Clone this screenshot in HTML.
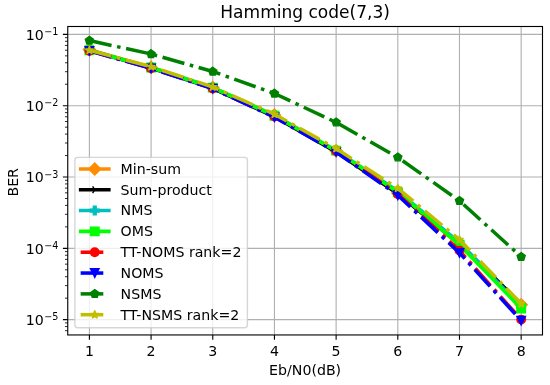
<!DOCTYPE html>
<html><head><meta charset="utf-8"><title>Hamming code(7,3)</title>
<style>html,body{margin:0;padding:0;background:#fff}svg{display:block}</style></head>
<body>
<svg width="550" height="385" viewBox="0 0 550 385" font-family='DejaVu Sans, Liberation Sans, sans-serif' font-size="14.17" fill="#000">
<rect width="550" height="385" fill="#fff"/>
<path d="M89.4 26.5V334.95M151.08 26.5V334.95M212.76 26.5V334.95M274.44 26.5V334.95M336.12 26.5V334.95M397.8 26.5V334.95M459.48 26.5V334.95M521.16 26.5V334.95M67.75 319.64H542.5M67.75 248.33H542.5M67.75 177.02H542.5M67.75 105.71H542.5M67.75 34.4H542.5" stroke="#b0b0b0" stroke-width="1.11" fill="none"/>
<path d="M89.4 334.95v4.86M151.08 334.95v4.86M212.76 334.95v4.86M274.44 334.95v4.86M336.12 334.95v4.86M397.8 334.95v4.86M459.48 334.95v4.86M521.16 334.95v4.86M67.75 319.64h-4.86M67.75 248.33h-4.86M67.75 177.02h-4.86M67.75 105.71h-4.86M67.75 34.4h-4.86" stroke="#000" stroke-width="1.11" fill="none"/>
<path d="M67.75 330.69h-2.78M67.75 326.55h-2.78M67.75 322.9h-2.78M67.75 298.17h-2.78M67.75 285.62h-2.78M67.75 276.71h-2.78M67.75 269.8h-2.78M67.75 264.15h-2.78M67.75 259.38h-2.78M67.75 255.24h-2.78M67.75 251.59h-2.78M67.75 226.86h-2.78M67.75 214.31h-2.78M67.75 205.4h-2.78M67.75 198.49h-2.78M67.75 192.84h-2.78M67.75 188.07h-2.78M67.75 183.93h-2.78M67.75 180.28h-2.78M67.75 155.55h-2.78M67.75 143h-2.78M67.75 134.09h-2.78M67.75 127.18h-2.78M67.75 121.53h-2.78M67.75 116.76h-2.78M67.75 112.62h-2.78M67.75 108.97h-2.78M67.75 84.24h-2.78M67.75 71.69h-2.78M67.75 62.78h-2.78M67.75 55.87h-2.78M67.75 50.22h-2.78M67.75 45.45h-2.78M67.75 41.31h-2.78M67.75 37.66h-2.78" stroke="#000" stroke-width="0.83" fill="none"/>
<g fill="none" stroke-linejoin="round">
<polyline points="89.4,49.6 151.08,67.2 212.76,87.5 274.44,115.1 336.12,150.7 397.8,193 459.48,244.8 521.16,304.8" stroke="#ff8c00" stroke-width="3.54" stroke-linecap="square"/>
<polygon points="89.4,43.59 95.41,49.6 89.4,55.61 83.39,49.6" fill="#ff8c00" stroke="#ff8c00" stroke-width="1.42" stroke-linejoin="miter"/>
<polygon points="151.08,61.19 157.09,67.2 151.08,73.21 145.07,67.2" fill="#ff8c00" stroke="#ff8c00" stroke-width="1.42" stroke-linejoin="miter"/>
<polygon points="212.76,81.49 218.77,87.5 212.76,93.51 206.75,87.5" fill="#ff8c00" stroke="#ff8c00" stroke-width="1.42" stroke-linejoin="miter"/>
<polygon points="274.44,109.09 280.45,115.1 274.44,121.11 268.43,115.1" fill="#ff8c00" stroke="#ff8c00" stroke-width="1.42" stroke-linejoin="miter"/>
<polygon points="336.12,144.69 342.13,150.7 336.12,156.71 330.11,150.7" fill="#ff8c00" stroke="#ff8c00" stroke-width="1.42" stroke-linejoin="miter"/>
<polygon points="397.8,186.99 403.81,193 397.8,199.01 391.79,193" fill="#ff8c00" stroke="#ff8c00" stroke-width="1.42" stroke-linejoin="miter"/>
<polygon points="459.48,238.79 465.49,244.8 459.48,250.81 453.47,244.8" fill="#ff8c00" stroke="#ff8c00" stroke-width="1.42" stroke-linejoin="miter"/>
<polygon points="521.16,298.79 527.17,304.8 521.16,310.81 515.15,304.8" fill="#ff8c00" stroke="#ff8c00" stroke-width="1.42" stroke-linejoin="miter"/>
<polyline points="89.4,50.4 151.08,68 212.76,88.3 274.44,116.8 336.12,152 397.8,193.8 459.48,243.6 521.16,304" stroke="#000000" stroke-width="3.54" stroke-linecap="square"/>
<path d="M87.28 47L89.4 50.4L87.28 53.8M89.4 50.4H93.65" stroke="#000000" stroke-width="1.42" fill="none" stroke-linejoin="miter"/>
<path d="M148.96 64.6L151.08 68L148.96 71.4M151.08 68H155.33" stroke="#000000" stroke-width="1.42" fill="none" stroke-linejoin="miter"/>
<path d="M210.63 84.9L212.76 88.3L210.63 91.7M212.76 88.3H217.01" stroke="#000000" stroke-width="1.42" fill="none" stroke-linejoin="miter"/>
<path d="M272.31 113.4L274.44 116.8L272.31 120.2M274.44 116.8H278.69" stroke="#000000" stroke-width="1.42" fill="none" stroke-linejoin="miter"/>
<path d="M334 148.6L336.12 152L334 155.4M336.12 152H340.37" stroke="#000000" stroke-width="1.42" fill="none" stroke-linejoin="miter"/>
<path d="M395.67 190.4L397.8 193.8L395.67 197.2M397.8 193.8H402.05" stroke="#000000" stroke-width="1.42" fill="none" stroke-linejoin="miter"/>
<path d="M457.36 240.2L459.48 243.6L457.36 247M459.48 243.6H463.73" stroke="#000000" stroke-width="1.42" fill="none" stroke-linejoin="miter"/>
<path d="M519.03 300.6L521.16 304L519.03 307.4M521.16 304H525.41" stroke="#000000" stroke-width="1.42" fill="none" stroke-linejoin="miter"/>
<polyline points="89.4,50.3 151.08,67.6 212.76,87.7 274.44,115.8 336.12,150.7 397.8,191 459.48,242.6 521.16,306.5" stroke="#00bfbf" stroke-width="3.54" stroke-linecap="square"/>
<polygon points="87.98,46.05 90.82,46.05 90.82,48.88 93.65,48.88 93.65,51.72 90.82,51.72 90.82,54.55 87.98,54.55 87.98,51.72 85.15,51.72 85.15,48.88 87.98,48.88" fill="#00bfbf" stroke="#00bfbf" stroke-width="1.42" stroke-linejoin="miter"/>
<polygon points="149.66,63.35 152.5,63.35 152.5,66.18 155.33,66.18 155.33,69.02 152.5,69.02 152.5,71.85 149.66,71.85 149.66,69.02 146.83,69.02 146.83,66.18 149.66,66.18" fill="#00bfbf" stroke="#00bfbf" stroke-width="1.42" stroke-linejoin="miter"/>
<polygon points="211.34,83.45 214.18,83.45 214.18,86.28 217.01,86.28 217.01,89.12 214.18,89.12 214.18,91.95 211.34,91.95 211.34,89.12 208.51,89.12 208.51,86.28 211.34,86.28" fill="#00bfbf" stroke="#00bfbf" stroke-width="1.42" stroke-linejoin="miter"/>
<polygon points="273.02,111.55 275.86,111.55 275.86,114.38 278.69,114.38 278.69,117.22 275.86,117.22 275.86,120.05 273.02,120.05 273.02,117.22 270.19,117.22 270.19,114.38 273.02,114.38" fill="#00bfbf" stroke="#00bfbf" stroke-width="1.42" stroke-linejoin="miter"/>
<polygon points="334.7,146.45 337.54,146.45 337.54,149.28 340.37,149.28 340.37,152.12 337.54,152.12 337.54,154.95 334.7,154.95 334.7,152.12 331.87,152.12 331.87,149.28 334.7,149.28" fill="#00bfbf" stroke="#00bfbf" stroke-width="1.42" stroke-linejoin="miter"/>
<polygon points="396.38,186.75 399.22,186.75 399.22,189.58 402.05,189.58 402.05,192.42 399.22,192.42 399.22,195.25 396.38,195.25 396.38,192.42 393.55,192.42 393.55,189.58 396.38,189.58" fill="#00bfbf" stroke="#00bfbf" stroke-width="1.42" stroke-linejoin="miter"/>
<polygon points="458.06,238.35 460.9,238.35 460.9,241.18 463.73,241.18 463.73,244.02 460.9,244.02 460.9,246.85 458.06,246.85 458.06,244.02 455.23,244.02 455.23,241.18 458.06,241.18" fill="#00bfbf" stroke="#00bfbf" stroke-width="1.42" stroke-linejoin="miter"/>
<polygon points="519.74,302.25 522.58,302.25 522.58,305.08 525.41,305.08 525.41,307.92 522.58,307.92 522.58,310.75 519.74,310.75 519.74,307.92 516.91,307.92 516.91,305.08 519.74,305.08" fill="#00bfbf" stroke="#00bfbf" stroke-width="1.42" stroke-linejoin="miter"/>
<polyline points="89.4,50.2 151.08,67.5 212.76,87.6 274.44,115.7 336.12,150.6 397.8,192.2 459.48,244.8 521.16,308.5" stroke="#00ff00" stroke-width="3.54" stroke-linecap="square"/>
<polygon points="85.15,45.95 93.65,45.95 93.65,54.45 85.15,54.45" fill="#00ff00" stroke="#00ff00" stroke-width="1.42" stroke-linejoin="miter"/>
<polygon points="146.83,63.25 155.33,63.25 155.33,71.75 146.83,71.75" fill="#00ff00" stroke="#00ff00" stroke-width="1.42" stroke-linejoin="miter"/>
<polygon points="208.51,83.35 217.01,83.35 217.01,91.85 208.51,91.85" fill="#00ff00" stroke="#00ff00" stroke-width="1.42" stroke-linejoin="miter"/>
<polygon points="270.19,111.45 278.69,111.45 278.69,119.95 270.19,119.95" fill="#00ff00" stroke="#00ff00" stroke-width="1.42" stroke-linejoin="miter"/>
<polygon points="331.87,146.35 340.37,146.35 340.37,154.85 331.87,154.85" fill="#00ff00" stroke="#00ff00" stroke-width="1.42" stroke-linejoin="miter"/>
<polygon points="393.55,187.95 402.05,187.95 402.05,196.45 393.55,196.45" fill="#00ff00" stroke="#00ff00" stroke-width="1.42" stroke-linejoin="miter"/>
<polygon points="455.23,240.55 463.73,240.55 463.73,249.05 455.23,249.05" fill="#00ff00" stroke="#00ff00" stroke-width="1.42" stroke-linejoin="miter"/>
<polygon points="516.91,304.25 525.41,304.25 525.41,312.75 516.91,312.75" fill="#00ff00" stroke="#00ff00" stroke-width="1.42" stroke-linejoin="miter"/>
<polyline points="89.4,50.8 151.08,68.2 212.76,88.4 274.44,116.6 336.12,150.9 397.8,194 459.48,250.6 521.16,319.6" stroke="#ff0000" stroke-width="3.54" stroke-linecap="butt" stroke-dasharray="22.66 5.66 3.54 5.66"/>
<circle cx="89.4" cy="50.8" r="4.96" fill="#ff0000"/>
<circle cx="151.08" cy="68.2" r="4.96" fill="#ff0000"/>
<circle cx="212.76" cy="88.4" r="4.96" fill="#ff0000"/>
<circle cx="274.44" cy="116.6" r="4.96" fill="#ff0000"/>
<circle cx="336.12" cy="150.9" r="4.96" fill="#ff0000"/>
<circle cx="397.8" cy="194" r="4.96" fill="#ff0000"/>
<circle cx="459.48" cy="250.6" r="4.96" fill="#ff0000"/>
<circle cx="521.16" cy="319.6" r="4.96" fill="#ff0000"/>
<polyline points="89.4,50.9 151.08,68.4 212.76,88.6 274.44,117.2 336.12,152 397.8,195.3 459.48,252.9 521.16,320.6" stroke="#0000ff" stroke-width="3.54" stroke-linecap="butt" stroke-dasharray="22.66 5.66 3.54 5.66"/>
<polygon points="89.4,55.15 85.15,46.65 93.65,46.65" fill="#0000ff" stroke="#0000ff" stroke-width="1.42" stroke-linejoin="miter"/>
<polygon points="151.08,72.65 146.83,64.15 155.33,64.15" fill="#0000ff" stroke="#0000ff" stroke-width="1.42" stroke-linejoin="miter"/>
<polygon points="212.76,92.85 208.51,84.35 217.01,84.35" fill="#0000ff" stroke="#0000ff" stroke-width="1.42" stroke-linejoin="miter"/>
<polygon points="274.44,121.45 270.19,112.95 278.69,112.95" fill="#0000ff" stroke="#0000ff" stroke-width="1.42" stroke-linejoin="miter"/>
<polygon points="336.12,156.25 331.87,147.75 340.37,147.75" fill="#0000ff" stroke="#0000ff" stroke-width="1.42" stroke-linejoin="miter"/>
<polygon points="397.8,199.55 393.55,191.05 402.05,191.05" fill="#0000ff" stroke="#0000ff" stroke-width="1.42" stroke-linejoin="miter"/>
<polygon points="459.48,257.15 455.23,248.65 463.73,248.65" fill="#0000ff" stroke="#0000ff" stroke-width="1.42" stroke-linejoin="miter"/>
<polygon points="521.16,324.85 516.91,316.35 525.41,316.35" fill="#0000ff" stroke="#0000ff" stroke-width="1.42" stroke-linejoin="miter"/>
<polyline points="89.4,40.6 151.08,54 212.76,71.5 274.44,93.5 336.12,122.4 397.8,157.4 459.48,200.8 521.16,256.8" stroke="#008000" stroke-width="3.54" stroke-linecap="butt" stroke-dasharray="22.66 5.66 3.54 5.66"/>
<polygon points="89.4,36.35 93.44,39.29 91.9,44.04 86.9,44.04 85.36,39.29" fill="#008000" stroke="#008000" stroke-width="1.42" stroke-linejoin="miter"/>
<polygon points="151.08,49.75 155.12,52.69 153.58,57.44 148.58,57.44 147.04,52.69" fill="#008000" stroke="#008000" stroke-width="1.42" stroke-linejoin="miter"/>
<polygon points="212.76,67.25 216.8,70.19 215.26,74.94 210.26,74.94 208.72,70.19" fill="#008000" stroke="#008000" stroke-width="1.42" stroke-linejoin="miter"/>
<polygon points="274.44,89.25 278.48,92.19 276.94,96.94 271.94,96.94 270.4,92.19" fill="#008000" stroke="#008000" stroke-width="1.42" stroke-linejoin="miter"/>
<polygon points="336.12,118.15 340.16,121.09 338.62,125.84 333.62,125.84 332.08,121.09" fill="#008000" stroke="#008000" stroke-width="1.42" stroke-linejoin="miter"/>
<polygon points="397.8,153.15 401.84,156.09 400.3,160.84 395.3,160.84 393.76,156.09" fill="#008000" stroke="#008000" stroke-width="1.42" stroke-linejoin="miter"/>
<polygon points="459.48,196.55 463.52,199.49 461.98,204.24 456.98,204.24 455.44,199.49" fill="#008000" stroke="#008000" stroke-width="1.42" stroke-linejoin="miter"/>
<polygon points="521.16,252.55 525.2,255.49 523.66,260.24 518.66,260.24 517.12,255.49" fill="#008000" stroke="#008000" stroke-width="1.42" stroke-linejoin="miter"/>
<polyline points="89.4,50.3 151.08,66.7 212.76,87 274.44,114.2 336.12,148.6 397.8,188.3 459.48,239.7 521.16,303.8" stroke="#bfbf00" stroke-width="3.54" stroke-linecap="butt" stroke-dasharray="22.66 5.66 3.54 5.66"/>
<polygon points="89.4,46.05 90.35,48.99 93.44,48.99 90.94,50.8 91.9,53.74 89.4,51.92 86.9,53.74 87.86,50.8 85.36,48.99 88.45,48.99" fill="#bfbf00" stroke="#bfbf00" stroke-width="1.42" stroke-linejoin="bevel"/>
<polygon points="151.08,62.45 152.03,65.39 155.12,65.39 152.62,67.2 153.58,70.14 151.08,68.32 148.58,70.14 149.54,67.2 147.04,65.39 150.13,65.39" fill="#bfbf00" stroke="#bfbf00" stroke-width="1.42" stroke-linejoin="bevel"/>
<polygon points="212.76,82.75 213.71,85.69 216.8,85.69 214.3,87.5 215.26,90.44 212.76,88.62 210.26,90.44 211.22,87.5 208.72,85.69 211.81,85.69" fill="#bfbf00" stroke="#bfbf00" stroke-width="1.42" stroke-linejoin="bevel"/>
<polygon points="274.44,109.95 275.39,112.89 278.48,112.89 275.98,114.7 276.94,117.64 274.44,115.82 271.94,117.64 272.9,114.7 270.4,112.89 273.49,112.89" fill="#bfbf00" stroke="#bfbf00" stroke-width="1.42" stroke-linejoin="bevel"/>
<polygon points="336.12,144.35 337.07,147.29 340.16,147.29 337.66,149.1 338.62,152.04 336.12,150.22 333.62,152.04 334.58,149.1 332.08,147.29 335.17,147.29" fill="#bfbf00" stroke="#bfbf00" stroke-width="1.42" stroke-linejoin="bevel"/>
<polygon points="397.8,184.05 398.75,186.99 401.84,186.99 399.34,188.8 400.3,191.74 397.8,189.92 395.3,191.74 396.26,188.8 393.76,186.99 396.85,186.99" fill="#bfbf00" stroke="#bfbf00" stroke-width="1.42" stroke-linejoin="bevel"/>
<polygon points="459.48,235.45 460.43,238.39 463.52,238.39 461.02,240.2 461.98,243.14 459.48,241.32 456.98,243.14 457.94,240.2 455.44,238.39 458.53,238.39" fill="#bfbf00" stroke="#bfbf00" stroke-width="1.42" stroke-linejoin="bevel"/>
<polygon points="521.16,299.55 522.11,302.49 525.2,302.49 522.7,304.3 523.66,307.24 521.16,305.42 518.66,307.24 519.62,304.3 517.12,302.49 520.21,302.49" fill="#bfbf00" stroke="#bfbf00" stroke-width="1.42" stroke-linejoin="bevel"/>
</g>
<rect x="67.75" y="26.5" width="474.75" height="308.45" fill="none" stroke="#000" stroke-width="1.11"/>
<text x="89.4" y="355.5" text-anchor="middle">1</text>
<text x="151.08" y="355.5" text-anchor="middle">2</text>
<text x="212.76" y="355.5" text-anchor="middle">3</text>
<text x="274.44" y="355.5" text-anchor="middle">4</text>
<text x="336.12" y="355.5" text-anchor="middle">5</text>
<text x="397.8" y="355.5" text-anchor="middle">6</text>
<text x="459.48" y="355.5" text-anchor="middle">7</text>
<text x="521.16" y="355.5" text-anchor="middle">8</text>
<text x="25.8" y="325.04">10<tspan dy="-4.8" dx="0.5" font-size="9.6">−5</tspan></text>
<text x="25.8" y="253.73">10<tspan dy="-4.8" dx="0.5" font-size="9.6">−4</tspan></text>
<text x="25.8" y="182.42">10<tspan dy="-4.8" dx="0.5" font-size="9.6">−3</tspan></text>
<text x="25.8" y="111.11">10<tspan dy="-4.8" dx="0.5" font-size="9.6">−2</tspan></text>
<text x="25.8" y="39.8">10<tspan dy="-4.8" dx="0.5" font-size="9.6">−1</tspan></text>
<text x="305.12" y="375" text-anchor="middle">Eb/N0(dB)</text>
<text transform="translate(18 182.32) rotate(-90)" text-anchor="middle">BER</text>
<text x="305.12" y="18.4" text-anchor="middle" font-size="17.05">Hamming code(7,3)</text>
<rect x="74.9" y="157.4" width="172.5" height="170.3" rx="2.8" fill="#fff" fill-opacity="0.8" stroke="#ccc" stroke-opacity="0.8" stroke-width="1.39"/>
<path d="M80.65 168.9H108.85" stroke="#ff8c00" stroke-width="3.54" stroke-linecap="square" fill="none"/>
<polygon points="94.75,162.89 100.76,168.9 94.75,174.91 88.74,168.9" fill="#ff8c00" stroke="#ff8c00" stroke-width="1.42" stroke-linejoin="miter"/>
<text x="120.6" y="173.76">Min-sum</text>
<path d="M80.65 189.73H108.85" stroke="#000000" stroke-width="3.54" stroke-linecap="square" fill="none"/>
<path d="M92.62 186.33L94.75 189.73L92.62 193.13M94.75 189.73H99" stroke="#000000" stroke-width="1.42" fill="none" stroke-linejoin="miter"/>
<text x="120.6" y="194.59">Sum-product</text>
<path d="M80.65 210.56H108.85" stroke="#00bfbf" stroke-width="3.54" stroke-linecap="square" fill="none"/>
<polygon points="93.33,206.31 96.17,206.31 96.17,209.14 99,209.14 99,211.98 96.17,211.98 96.17,214.81 93.33,214.81 93.33,211.98 90.5,211.98 90.5,209.14 93.33,209.14" fill="#00bfbf" stroke="#00bfbf" stroke-width="1.42" stroke-linejoin="miter"/>
<text x="120.6" y="215.42">NMS</text>
<path d="M80.65 231.39H108.85" stroke="#00ff00" stroke-width="3.54" stroke-linecap="square" fill="none"/>
<polygon points="90.5,227.14 99,227.14 99,235.64 90.5,235.64" fill="#00ff00" stroke="#00ff00" stroke-width="1.42" stroke-linejoin="miter"/>
<text x="120.6" y="236.25">OMS</text>
<path d="M80.65 252.22H108.85" stroke="#ff0000" stroke-width="3.54" stroke-linecap="butt" fill="none" stroke-dasharray="22.66 5.66 3.54 5.66"/>
<circle cx="94.75" cy="252.22" r="4.96" fill="#ff0000"/>
<text x="120.6" y="257.08">TT-NOMS rank=2</text>
<path d="M80.65 273.05H108.85" stroke="#0000ff" stroke-width="3.54" stroke-linecap="butt" fill="none" stroke-dasharray="22.66 5.66 3.54 5.66"/>
<polygon points="94.75,277.3 90.5,268.8 99,268.8" fill="#0000ff" stroke="#0000ff" stroke-width="1.42" stroke-linejoin="miter"/>
<text x="120.6" y="277.91">NOMS</text>
<path d="M80.65 293.88H108.85" stroke="#008000" stroke-width="3.54" stroke-linecap="butt" fill="none" stroke-dasharray="22.66 5.66 3.54 5.66"/>
<polygon points="94.75,289.63 98.79,292.57 97.25,297.32 92.25,297.32 90.71,292.57" fill="#008000" stroke="#008000" stroke-width="1.42" stroke-linejoin="miter"/>
<text x="120.6" y="298.74">NSMS</text>
<path d="M80.65 314.71H108.85" stroke="#bfbf00" stroke-width="3.54" stroke-linecap="butt" fill="none" stroke-dasharray="22.66 5.66 3.54 5.66"/>
<polygon points="94.75,310.46 95.7,313.4 98.79,313.4 96.29,315.21 97.25,318.15 94.75,316.33 92.25,318.15 93.21,315.21 90.71,313.4 93.8,313.4" fill="#bfbf00" stroke="#bfbf00" stroke-width="1.42" stroke-linejoin="bevel"/>
<text x="120.6" y="319.57">TT-NSMS rank=2</text>
</svg>
</body></html>
